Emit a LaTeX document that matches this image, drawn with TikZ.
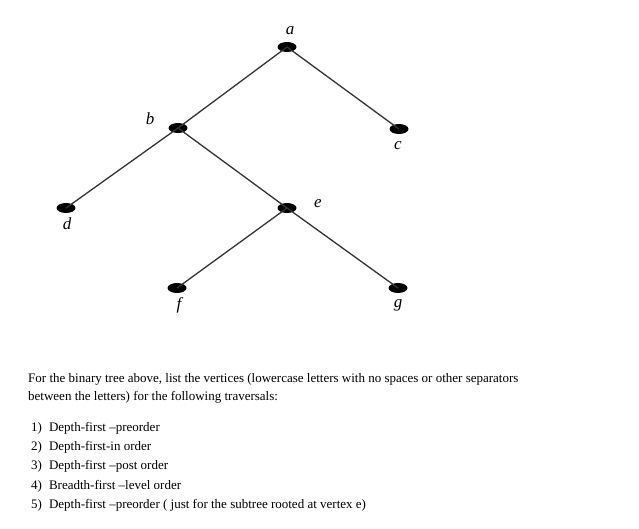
\documentclass[tikz,border=0pt]{standalone}
\usepackage{fontspec}
\setmainfont{Liberation Serif}
\usetikzlibrary{shapes.geometric}
\begin{document}
\begin{tikzpicture}[x=1pt,y=-1pt,
  vtx/.style={ellipse,fill=black,minimum width=19pt,minimum height=10pt,inner sep=0pt},
  lbl/.style={font=\fontsize{17}{18}\selectfont\itshape},
  txt/.style={anchor=west,inner sep=0pt,font=\fontsize{13}{15}\selectfont},
  edge/.style={line width=1.3pt,black!80}]
\useasboundingbox (0,0) rectangle (639,528);
\node[vtx] (a) at (287,47) {};
\node[vtx] (b) at (178,128) {};
\node[vtx] (c) at (399,129) {};
\node[vtx] (d) at (66,208) {};
\node[vtx] (e) at (287,208) {};
\node[vtx] (f) at (177,288) {};
\node[vtx] (g) at (398,288) {};
\draw[edge] (a.center) -- (b.center);
\draw[edge] (a.center) -- (c.center);
\draw[edge] (b.center) -- (d.center);
\draw[edge] (b.center) -- (e.center);
\draw[edge] (e.center) -- (f.center);
\draw[edge] (e.center) -- (g.center);
\node[lbl] (la) at (290,31) {a};
\node[lbl] (lb) at (150,119) {b};
\node[lbl] (lc) at (398,146) {c};
\node[lbl] (ld) at (67,224) {d};
\node[lbl] (le) at (318,204) {e};
\node[lbl] (lf) at (179,305) {f};
\node[lbl] (lg) at (398,305) {g};
\node[txt] (t1) at (28,379) {For the binary tree above, list the vertices (lowercase letters with no spaces or other separators};
\node[txt] (t2) at (28,397) {between the letters) for the following traversals:};
\node[txt] (n1) at (31,428) {1)\hspace{7pt}Depth-first –preorder};
\node[txt] (n2) at (31,447) {2)\hspace{7pt}Depth-first-in order};
\node[txt] (n3) at (31,466) {3)\hspace{7pt}Depth-first –post order};
\node[txt] (n4) at (31,486) {4)\hspace{7pt}Breadth-first –level order};
\node[txt] (n5) at (31,505) {5)\hspace{7pt}Depth-first –preorder ( just for the subtree rooted at vertex e)};
\end{tikzpicture}
\end{document}
